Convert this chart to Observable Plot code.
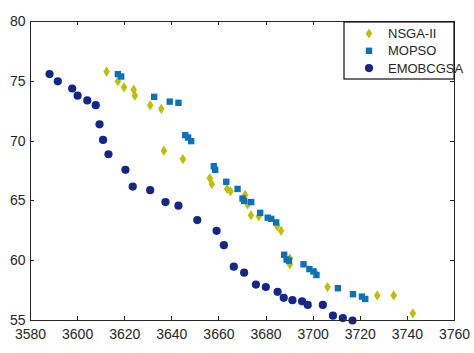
<!DOCTYPE html>
<html><head><meta charset="utf-8">
<script src="https://cdn.jsdelivr.net/npm/d3@7"></script>
<script src="https://cdn.jsdelivr.net/npm/@observablehq/plot@0.6"></script>
<style>body{margin:0;background:#fff} #chart{position:relative;width:474px;height:353px}</style>
</head><body><div id="chart"></div>
<script>
const seriesNames = ["NSGA-II", "MOPSO", "EMOBCGSA"];
const seriesColors = ["#bfbf00", "#0a72bd", "#13268c"];

const nsgaX = [3612.3,3617.1,3619.7,3623.8,3624.3,3630.8,3635.5,3636.6,3644.7,3656.1,3657.0,3663.5,3664.9,3671.1,3672.2,3673.6,3676.9,3684.7,3686.4,3690.1,3690.1,3701.1,3706.1,3727.2,3734.2,3742.3];
const nsgaY = [75.8,75.0,74.5,74.3,73.8,73.0,72.7,69.2,68.5,66.9,66.4,66.0,65.8,65.5,64.7,63.8,63.7,62.9,62.5,60.2,59.7,59.0,57.8,57.1,57.1,55.6];

const mopsoX = [3617.1,3618.5,3632.5,3639.1,3642.8,3645.7,3646.9,3648.2,3657.8,3658.4,3663.1,3667.9,3670.0,3670.7,3673.7,3677.5,3680.7,3682.2,3684.3,3687.7,3688.7,3689.7,3695.9,3698.4,3700.1,3701.4,3710.5,3716.9,3720.7,3722.1];
const mopsoY = [75.6,75.4,73.7,73.3,73.2,70.5,70.3,70.0,67.9,67.6,66.6,66.0,65.2,65.0,64.9,64.0,63.6,63.5,63.2,60.5,60.1,60.0,59.7,59.3,59.1,58.8,57.7,57.2,57.0,56.8];

const emoX = [3588.1,3591.6,3597.7,3600.0,3604.1,3607.7,3609.3,3610.8,3613.1,3620.3,3623.4,3630.8,3637.3,3642.8,3650.8,3659.0,3662.1,3666.3,3670.7,3675.7,3679.9,3684.9,3687.5,3691.2,3695.3,3697.7,3704.1,3708.4,3712.6,3716.7];
const emoY = [75.6,75.0,74.4,73.8,73.4,73.0,71.4,70.1,68.9,67.6,66.2,65.9,64.9,64.6,63.4,62.5,61.3,59.5,59.0,58.0,57.8,57.4,56.9,56.7,56.6,56.3,56.3,55.4,55.2,55.0];

const xTicks = [3580,3600,3620,3640,3660,3680,3700,3720,3740,3760];
const yTicks = [55,60,65,70,75,80];

const zip = (xs, ys) => xs.map((x, i) => ({x, y: ys[i]}));
const nsga = zip(nsgaX, nsgaY);
const mopso = zip(mopsoX, mopsoY);
const emo = zip(emoX, emoY);

const tallDiamond = {
  draw(ctx, size) {
    const s = Math.sqrt(size);
    const w = s * 0.5, h = s * 0.78;
    ctx.moveTo(0, -h); ctx.lineTo(w, 0); ctx.lineTo(0, h); ctx.lineTo(-w, 0); ctx.closePath();
  }
};

const font = "'Liberation Sans Narrow', 'Arial Narrow', 'Liberation Sans', Arial, sans-serif";
const ink = "#262626";
const radii = [3.7, 3.6, 4.1];

const chart = Plot.plot({
  width: 474, height: 353,
  marginLeft: 30, marginRight: 20, marginTop: 21, marginBottom: 33,
  x: {domain: [3580, 3760]},
  y: {domain: [55, 80]},
  style: {fontFamily: font, fontSize: "14px", color: ink, background: "white"},
  marks: [
    Plot.axisX({ticks: xTicks, tickSize: 0, tickPadding: 9, label: null, tickFormat: d => String(d)}),
    Plot.axisY({ticks: yTicks, tickSize: 0, tickPadding: 5, label: null}),
    Plot.dot(nsga, {x: "x", y: "y", symbol: tallDiamond, r: radii[0], fill: seriesColors[0], stroke: "none"}),
    Plot.dot(mopso, {x: "x", y: "y", symbol: "square", r: radii[1], fill: seriesColors[1], stroke: "none"}),
    Plot.dot(emo, {x: "x", y: "y", symbol: "circle", r: radii[2], fill: seriesColors[2], stroke: "none"}),
    Plot.frame({stroke: ink, strokeWidth: 1})
  ]
});
document.getElementById("chart").appendChild(chart);

// inward ticks on all four sides (MATLAB box style)
const sx = chart.scale("x"), sy = chart.scale("y");
const svg = d3.select(chart);
const pBottom = sy.apply(55), pTop = sy.apply(80), pLeft = sx.apply(3580), pRight = sx.apply(3760);
const tg = svg.append("g").attr("stroke", ink).attr("stroke-width", 1);
const tl = 4;
for (const t of xTicks) {
  const px = Math.round(sx.apply(t)) + 0.5;
  tg.append("line").attr("x1", px).attr("x2", px).attr("y1", pBottom).attr("y2", pBottom - tl);
  tg.append("line").attr("x1", px).attr("x2", px).attr("y1", pTop).attr("y2", pTop + tl);
}
for (const t of yTicks) {
  const py = Math.round(sy.apply(t)) + 0.5;
  tg.append("line").attr("y1", py).attr("y2", py).attr("x1", pLeft).attr("x2", pLeft + tl);
  tg.append("line").attr("y1", py).attr("y2", py).attr("x1", pRight).attr("x2", pRight - tl);
}

// legend box in the top-right corner
const lg = svg.append("g");
const lx = pRight - 110, ly = pTop + 1, lw = 110, lh = 57;
lg.append("rect").attr("x", lx).attr("y", ly).attr("width", lw).attr("height", lh)
  .attr("fill", "white").attr("stroke", "#111").attr("stroke-width", 1.2);
const symbols = [tallDiamond, d3.symbolSquare, d3.symbolCircle];
seriesNames.forEach((name, i) => {
  const cy = ly + 11.5 + i * 17.3;
  lg.append("path")
    .attr("d", d3.symbol(symbols[i], radii[i] * radii[i] * Math.PI)())
    .attr("transform", `translate(${lx + 25},${cy})`)
    .attr("fill", seriesColors[i]);
  lg.append("text").attr("x", lx + 44).attr("y", cy).attr("dy", "0.35em")
    .attr("text-anchor", "start")
    .attr("fill", ink).attr("font-family", font).attr("font-size", 13).text(name);
});
</script>
</body></html>
